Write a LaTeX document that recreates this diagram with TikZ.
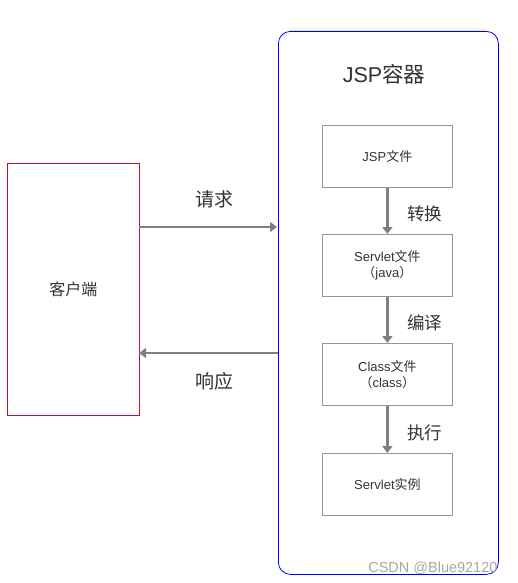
\documentclass[tikz,border=0pt]{standalone}
\usepackage{fontspec}
\setmainfont{Liberation Sans}
\newfontfamily\cjk{Noto Sans CJK SC}
\usetikzlibrary{arrows.meta}
\definecolor{clientred}{RGB}{200,16,46}
\definecolor{boxgray}{RGB}{150,150,150}
\definecolor{arrgray}{RGB}{128,128,128}
\definecolor{txt}{RGB}{50,50,50}
\begin{document}
\begin{tikzpicture}[x=1pt,y=-1pt,
  stepbox/.style={draw=boxgray,line width=0.8pt,minimum width=130pt,minimum height=62pt,anchor=north west,inner sep=0pt,font=\fontsize{13}{16}\selectfont,text=txt,align=center},
  flow/.style={draw=arrgray,line width=2.4pt,-{Triangle[length=7pt,width=10pt]}},
  lbl/.style={font=\cjk\fontsize{17.5}{20}\selectfont,text=txt},
  sidelbl/.style={font=\cjk\fontsize{19}{22}\selectfont,text=txt}]
\useasboundingbox (0,0) rectangle (517,583);
\node[draw=clientred,line width=0.8pt,minimum width=132pt,minimum height=252pt,anchor=north west,inner sep=0pt,font=\cjk\fontsize{16}{18}\selectfont,text=txt] (client) at (7,163) {客户端};
\node[draw=blue,line width=0.8pt,rounded corners=12pt,minimum width=220pt,minimum height=543pt,anchor=north west,inner sep=0pt] (container) at (278,31) {};
\node[font=\fontsize{21.5}{24}\selectfont,text=txt] (title) at (384,74) {JSP{\cjk 容器}};
\node[stepbox] (jsp) at (322,125) {JSP{\cjk 文件}};
\node[stepbox] (servlet) at (322,234) {Servlet{\cjk 文件}\\{\cjk（}java{\cjk）}};
\node[stepbox] (class) at (322,343) {Class{\cjk 文件}\\{\cjk（}class{\cjk）}};
\node[stepbox] (inst) at (322,453) {Servlet{\cjk 实例}};
\draw[flow] (jsp.south) -- (servlet.north);
\draw[flow] (servlet.south) -- (class.north);
\draw[flow] (class.south) -- (inst.north);
\node[lbl] (l1) at (424.5,214) {转换};
\node[lbl] (l2) at (424.5,323) {编译};
\node[lbl] (l3) at (424.5,433) {执行};
\coordinate (reqs) at (139,227);
\coordinate (reqe) at (277,227);
\coordinate (ress) at (278,353);
\coordinate (rese) at (139,353);
\draw[flow] (reqs) -- (reqe);
\draw[flow] (ress) -- (rese);
\node[sidelbl] (req) at (214,199) {请求};
\node[sidelbl] (res) at (214,381) {响应};
\node[font=\fontsize{14.5}{16}\selectfont,text=black!35,anchor=east] (wm) at (501,568) {CSDN @Blue92120};
\end{tikzpicture}
\end{document}
